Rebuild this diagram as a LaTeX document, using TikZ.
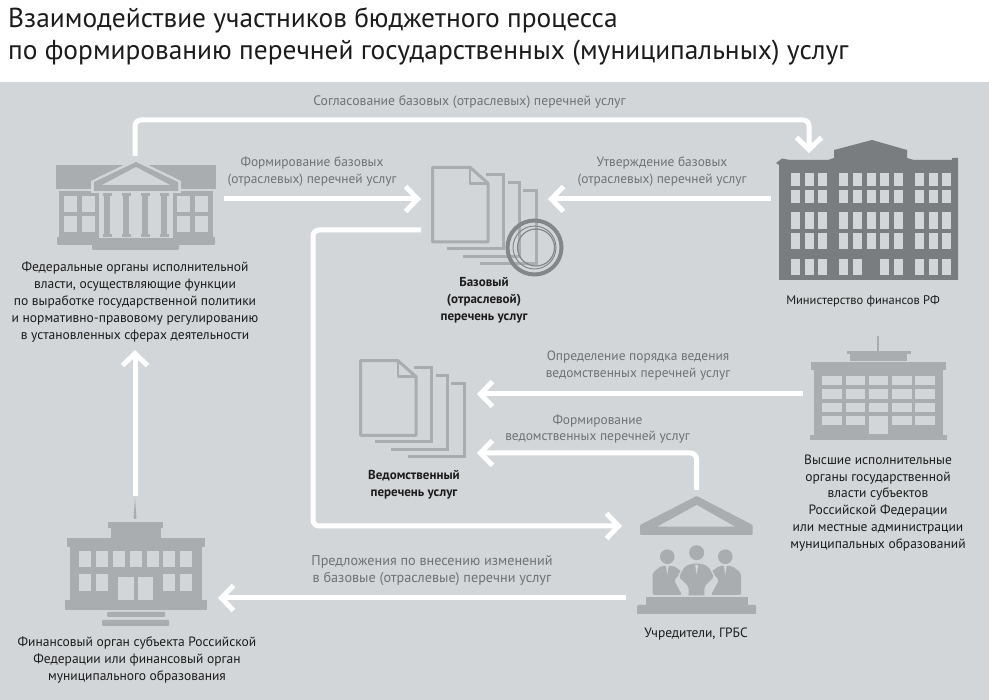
\documentclass[tikz,border=0pt]{standalone}
\usepackage{fontspec}
\setmainfont{PT Sans}
\definecolor{colorPanel}{HTML}{D3D6D8}
\definecolor{colorIcon}{HTML}{A9ADAF}
\definecolor{colorMinistry}{HTML}{7A7D80}
\definecolor{colorSeal}{HTML}{84878A}
\definecolor{colorNote}{HTML}{6E7275}
\definecolor{colorCaption}{HTML}{1C1C1C}
\usetikzlibrary{arrows.meta}
\tikzset{
  portbox/.style={inner sep=0pt, outer sep=0pt},
  flow/.style={white, line width=5pt, rounded corners=6pt, -{Straight Barb[length=12pt,width=25pt,line width=5pt]}},
  note/.style={colorNote, align=center, inner sep=0pt, font=\fontsize{13.4}{16.8}\selectfont},
  widenote/.style={note, font=\fontsize{14.2}{16.8}\selectfont},
  caption/.style={colorCaption, align=center, inner sep=0pt, font=\fontsize{13.5}{16.8}\selectfont},
  boldcaption/.style={caption, font=\fontsize{13}{16.8}\selectfont\bfseries},
  icon/.style={fill=colorIcon},
  pane/.style={fill=colorPanel},
  docstack/.pic={
    \draw[colorIcon, line width=3pt, line join=round] (0,0) -- (37.3,0) -- (55.3,16) -- (55.3,74.7) -- (0,74.7) -- cycle;
    \draw[colorIcon, line width=2.5pt, line join=round] (37.3,0) -- (37.3,16) -- (55.3,16);
    \draw[colorIcon, line width=3pt] (53.3,7) -- (70.3,7) -- (70.3,81) -- (14.3,81);
    \draw[colorIcon, line width=3pt] (75.3,15) -- (86.3,15) -- (86.3,89) -- (30.3,89);
    \draw[colorIcon, line width=3pt] (90.3,23) -- (103.3,23) -- (103.3,96) -- (47.3,96);
  }
}
\begin{document}
\begin{tikzpicture}[x=1pt, y=-1pt]
\useasboundingbox (0,0) rectangle (989,700);
\fill[colorPanel] (0,82) rectangle (989,700);
\node[anchor=north west, align=left, inner sep=0pt, colorCaption, font=\fontsize{27.4}{32}\selectfont] (title) at (8,7) {Взаимодействие участников бюджетного процесса\\по формированию перечней государственных (муниципальных) услуг};

\node[portbox, minimum width=178pt, minimum height=86pt] (fed) at (135,199) {};
\node[portbox, minimum width=127pt, minimum height=100pt] (docA) at (484.5,199) {};
\node[portbox, minimum width=194pt, minimum height=92pt] (mf) at (868,199) {};
\node[portbox, minimum width=116pt, minimum height=100pt] (docB) at (419,423.5) {};
\node[portbox, minimum width=150pt, minimum height=100pt] (reg) at (878,394) {};
\node[portbox, minimum width=149pt, minimum height=72pt] (uch) at (696.5,526) {};
\node[portbox, minimum width=166pt, minimum height=204pt] (fin) at (135,598) {};

\fill[icon] (56,165) rectangle (216,189);
\foreach \x in {59,173} \fill[icon] (\x,191) rectangle ++(40,47);
\fill[icon, rounded corners=1pt] (57,237) rectangle (98,245);
\fill[icon, rounded corners=1pt] (174,237) rectangle (215,245);
\foreach \x in {64,82,177,195} \foreach \y in {196,216} \fill[pane] (\x,\y) rectangle ++(12.5,16);
\fill[colorPanel] (136,159) -- (181,181) -- (181,193) -- (91,193) -- (91,181) -- cycle;
\fill[colorPanel] (101,191) rectangle (171,240);
\fill[icon] (136,162) -- (178,182) -- (178,191) -- (94,191) -- (94,182) -- cycle;
\fill[pane] (136,167) -- (170,185) -- (102,185) -- cycle;
\foreach \x in {107,126,145,164} {
  \fill[icon] (\x-3,193) rectangle (\x+3,237);
  \fill[icon] (\x-4.5,193) rectangle (\x+4.5,196);
  \fill[icon] (\x-4.5,234) rectangle (\x+4.5,237);
}
\fill[icon] (97,238) rectangle (175,243);
\fill[icon, rounded corners=1pt] (92,242) rectangle (179,250);

\pic at (432.7,167.3) {docstack};
\draw[colorSeal, line width=4pt] (534.5,247.5) circle (27);
\draw[colorSeal, line width=1pt] (534.5,247.5) circle (21.5);
\draw[colorSeal, line width=1.2pt] (536,247.5) circle (18.5);

\fill[colorMinistry] (779,280) -- (779,165) -- (776,163) -- (782,158.5) -- (790,160) -- (828,160) -- (834,158) -- (834,150) -- (872,140) -- (907,150) -- (907,158) -- (914,160) -- (952,160) -- (952,158) -- (958,158) -- (958,280) -- cycle;
\foreach \x in {791,804.7,818.3,839.3,853,866.7,880.3,894,915,928.7,942.3} {
  \fill[pane] (\x,173.3) rectangle ++(9,12.4);
  \fill[pane] (\x,190) rectangle ++(9,13);
  \fill[pane] (\x,212.3) rectangle ++(9,16.4);
  \fill[pane] (\x,233) rectangle ++(9,16.3);
}
\foreach \x in {791,804.7,818.3,839.3,853,880.3,894,915,928.7,942.3} \fill[pane] (\x,259) rectangle ++(9,16.3);

\pic at (360.7,360.7) {docstack};

\draw[colorIcon, line width=1.2pt] (878,336) -- (878,351);
\fill[icon] (847,351) rectangle (911,354);
\fill[icon] (850,354) rectangle (907,361);
\fill[icon] (811,362) rectangle (946,370);
\fill[icon] (814,370) rectangle (943,436);
\fill[icon] (810,435) rectangle (947,440);
\foreach \x/\w in {821.7/20,845.7/19.3,869/19.3,892/19.7,915.3/20} \foreach \y in {376,389.3,402.7} \fill[pane] (\x,\y) rectangle ++(\w,9.3);
\foreach \x/\w in {821.7/20,845.7/19.3,892/19.7,915.3/20} \fill[pane] (\x,416) rectangle ++(\w,9.3);
\fill[pane] (869,416) rectangle (888.3,434);

\fill[icon, rounded corners=1pt] (696.7,496) -- (752.7,525) -- (752.7,535) -- (640,535) -- (640,525) -- cycle;
\fill[pane] (696.7,505) -- (735,526.7) -- (657.3,526.7) -- cycle;
\fill[icon] (667.3,556.7) circle (7.3);
\fill[icon] (696.7,552.7) circle (7.5);
\fill[icon] (725.3,556.7) circle (7.3);
\fill[icon, rounded corners=2pt] (652.5,595) -- (652.5,573) -- (661,566) -- (674,566) -- (682,572) -- (674,580) -- (682,595) -- cycle;
\fill[icon, rounded corners=2pt] (741,595) -- (741,573) -- (732,566) -- (719,566) -- (711,572) -- (719,580) -- (711,595) -- cycle;
\draw[icon, draw=colorPanel, line width=1.3pt, rounded corners=2pt] (688,595.5) -- (688,587) -- (678,577) -- (684,566) -- (691,563) -- (702,563) -- (709,566) -- (715,577) -- (705,587) -- (705,595.5);
\foreach \x in {667.3,696.7,725.3} \fill[pane] (\x-1.5,565) -- (\x+1.5,565) -- (\x,575) -- cycle;
\fill[icon] (646,597) rectangle (748,605);
\fill[icon, rounded corners=1pt] (637,605) rectangle (756,614);

\fill[icon] (135,497) -- (136.5,519) -- (133.5,519) -- cycle;
\fill[icon] (108,522) rectangle (163,528);
\fill[icon] (111,528) rectangle (161,540);
\fill[icon] (67,538) rectangle (205,547);
\fill[icon] (70,547) rectangle (202,602);
\fill[icon] (65,600) rectangle (207,610);
\fill[icon, rounded corners=1pt] (107,612) rectangle (165,617);
\fill[icon, rounded corners=1pt] (102,620) rectangle (169,626);
\foreach \x in {79.3,96,113,130,146.7,163.3,180} \fill[pane] (\x,551) rectangle ++(11.8,16);
\foreach \x in {79.3,96,163.3,180} \fill[pane] (\x,574) rectangle ++(11.8,17);
\fill[pane] (118.3,577) rectangle (133.7,600);
\fill[pane] (137.7,577) rectangle (152.7,600);

\node[caption] (fedText) at (135,302) {Федеральные органы исполнительной\\власти, осуществляющие функции\\по выработке государственной политики\\и нормативно-правовому регулированию\\в установленных сферах деятельности};
\node[boldcaption] (docAText) at (484,300) {Базовый\\(отраслевой)\\перечень услуг};
\node[caption, font=\fontsize{12.5}{16.8}\selectfont] (mfText) at (863,301) {Министерство финансов РФ};
\node[boldcaption] (docBText) at (414,485) {Ведомственный\\перечень услуг};
\node[caption] (regText) at (878,503) {Высшие исполнительные\\органы государственной\\власти субъектов\\Российской Федерации\\или местные администрации\\муниципальных образований};
\node[caption] (uchText) at (696,634) {Учредители, ГРБС};
\node[caption] (finText) at (137,660) {Финансовый орган субъекта Российской\\Федерации или финансовый орган\\муниципального образования};

\node[widenote, font=\fontsize{13.7}{16.8}\selectfont] (agreeNote) at (469.5,102) {Согласование базовых (отраслевых) перечней услуг};
\node[note] (formNote) at (312,172) {Формирование базовых\\(отраслевых) перечней услуг};
\node[note] (approveNote) at (662,172) {Утверждение базовых\\(отраслевых) перечней услуг};
\node[note] (orderNote) at (638,366) {Определение порядка ведения\\ведомственных перечней услуг};
\node[note] (deptNote) at (597.5,429) {Формирование\\ведомственных перечней услуг};
\node[widenote] (proposeNote) at (432,570.5) {Предложения по внесению изменений\\в базовые (отраслевые) перечни услуг};

\draw[flow] (fed.north) |- ([yshift=-18pt]agreeNote.center) -| ([xshift=-59pt]mf.north);
\draw[flow] (fed.east) -- (docA.west);
\draw[flow] (mf.west) -- (docA.east);
\draw[flow] ([yshift=-31pt]docA.west) -| (313,400) |- (uch.west);
\draw[flow] (reg.west) -- ([yshift=29.5pt]docB.east);
\draw[flow] (uch.north) |- ([yshift=-29.5pt]docB.east);
\draw[flow] ([xshift=4pt,yshift=-72pt]uch.west) -- (fin.east);
\draw[flow, shorten >=8pt] (fin.north) -- (fedText.south);
\end{tikzpicture}
\end{document}
